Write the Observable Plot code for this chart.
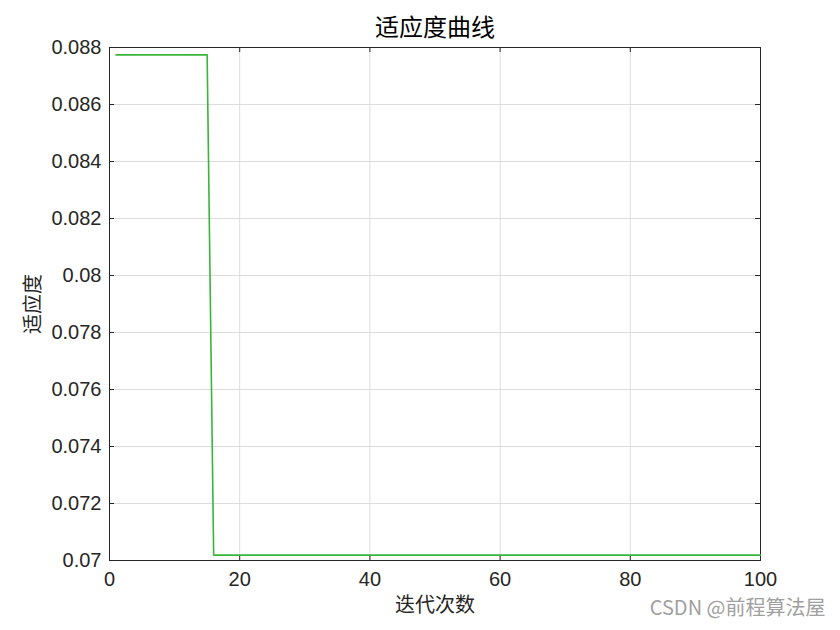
<!DOCTYPE html>
<html>
<head>
<meta charset="utf-8">
<script src="https://cdn.jsdelivr.net/npm/d3@7"></script>
<script src="https://cdn.jsdelivr.net/npm/@observablehq/plot@0.6"></script>
<style>
  html, body { margin: 0; padding: 0; background: #fff; }
  #chart { position: relative; width: 840px; height: 630px; }
  svg { display: block; }
</style>
</head>
<body>
<div id="chart"></div>
<script>
// Data (breakpoints of the fitness curve)
const iterations = [1, 15, 16, 100];
const fitness = [0.08774, 0.08774, 0.07019, 0.07019];
const xTicks = [0, 20, 40, 60, 80, 100];
const yTicks = [0.07, 0.072, 0.074, 0.076, 0.078, 0.08, 0.082, 0.084, 0.086, 0.088];
const titleText = "适应度曲线";
const xLabel = "迭代次数";
const yLabel = "适应度";
const watermark = "CSDN @前程算法屋";

const data = iterations.map((it, i) => ({ it, v: fitness[i] }));
const fmt = d => String(+d.toFixed(3));
const latin = "Liberation Sans, Arial, sans-serif";
const cjk = "Noto Sans CJK SC, sans-serif";
const W = 840, H = 630, mL = 109, mR = 80, mT = 47, mB = 70;
const fw = W - mL - mR, fh = H - mT - mB, tk = 5;

const chart = Plot.plot({
  width: W, height: H,
  marginLeft: mL, marginRight: mR, marginTop: mT, marginBottom: mB,
  style: { fontFamily: latin, fontSize: "20px", color: "#262626", background: "#fff" },
  x: { domain: [0, 100], ticks: xTicks },
  y: { domain: [0.07, 0.088], ticks: yTicks },
  marks: [
    Plot.gridX(xTicks, { stroke: "#dcdcdc", strokeOpacity: 1 }),
    Plot.gridY(yTicks, { stroke: "#dcdcdc", strokeOpacity: 1 }),
    Plot.axisX(xTicks, { tickSize: 0, tickPadding: 11, label: null, tickFormat: d => d, fontSize: 20, fill: "#262626" }),
    Plot.axisY(yTicks, { tickSize: 0, tickPadding: 8, label: null, tickFormat: fmt, fontSize: 20, fill: "#262626" }),
    // inward ticks on all four sides
    Plot.tickX(xTicks, { x: d => d, insetTop: fh - tk, stroke: "#262626" }),
    Plot.tickX(xTicks, { x: d => d, insetBottom: fh - tk, stroke: "#262626" }),
    Plot.tickY(yTicks, { y: d => d, insetRight: fw - tk, stroke: "#262626" }),
    Plot.tickY(yTicks, { y: d => d, insetLeft: fw - tk, stroke: "#262626" }),
    Plot.frame({ stroke: "#262626", strokeWidth: 1 }),
    Plot.line(data, { x: "it", y: "v", stroke: "#39b539", strokeWidth: 1.6 }),
    Plot.text([titleText], { frameAnchor: "top", lineAnchor: "middle", dy: -19, fontFamily: cjk, fontSize: 24, fill: "#000" }),
    Plot.text([xLabel], { frameAnchor: "bottom", lineAnchor: "middle", dy: 45, fontFamily: cjk, fontSize: 20, fill: "#262626" }),
    Plot.text([yLabel], { frameAnchor: "left", textAnchor: "middle", lineAnchor: "middle", dx: -76, rotate: -90, fontFamily: cjk, fontSize: 20, fill: "#262626" }),
    Plot.text([watermark], { frameAnchor: "bottom-right", textAnchor: "end", lineAnchor: "middle", dx: 65, dy: 48, fontFamily: cjk, fontSize: 20, fill: "#a0a0a0" })
  ]
});
document.getElementById("chart").appendChild(chart);
</script>
</body>
</html>
